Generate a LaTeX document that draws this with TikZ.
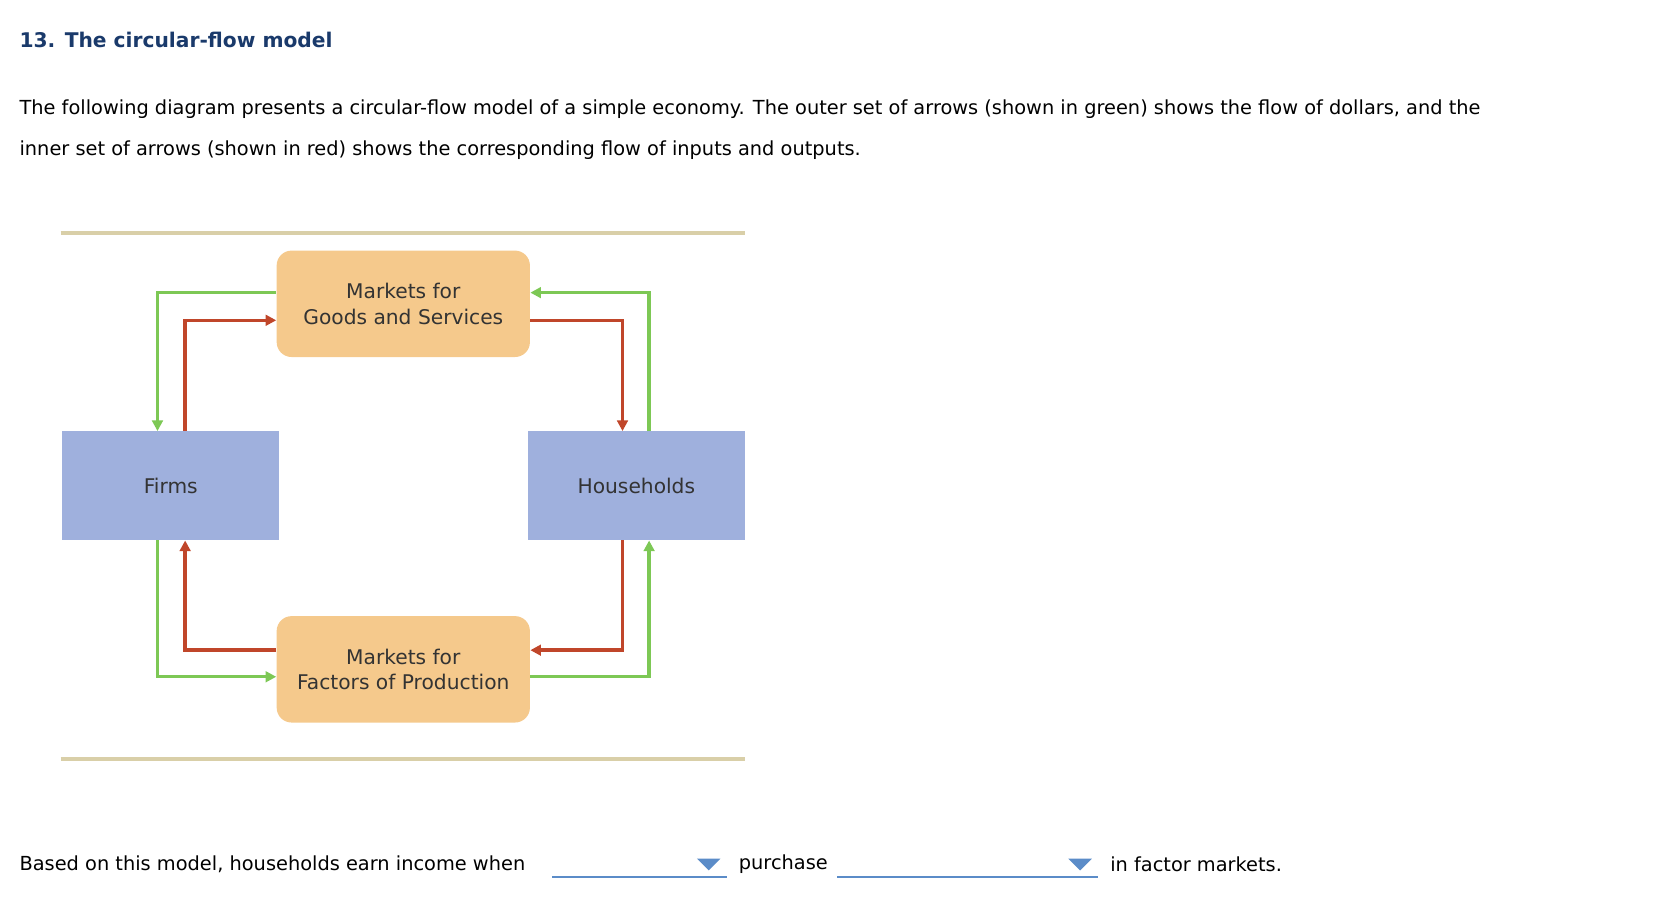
\documentclass[tikz,border=0pt]{standalone}
\usepackage{fontspec}
\setmainfont{DejaVu Sans}
\usetikzlibrary{arrows.meta,positioning}
\definecolor{flowgreen}{HTML}{7DC855}
\definecolor{flowred}{HTML}{C0462A}
\definecolor{marketfill}{HTML}{F5C98C}
\definecolor{agentfill}{HTML}{9FB0DD}
\definecolor{rulecolor}{HTML}{D9CFA8}
\definecolor{titleblue}{HTML}{1A3A6B}
\definecolor{dropblue}{HTML}{5B8CC8}
\tikzset{
  market/.style={fill=marketfill, rounded corners=7pt, minimum width=119pt, minimum height=50pt, align=center, font=\fontsize{9.5}{12}\selectfont, text=black!80},
  agent/.style={fill=agentfill, minimum width=102pt, minimum height=51pt, font=\fontsize{9.5}{12}\selectfont, text=black!80},
  money/.style={flowgreen, line width=1.6pt, -{Triangle[length=5pt,width=5pt]}},
  goods/.style={flowred, line width=1.6pt, -{Triangle[length=5pt,width=5pt]}},
  body/.style={anchor=west, inner sep=0pt, font=\fontsize{9.1}{11}\selectfont}
}
\begin{document}
\begin{tikzpicture}[x=0.5pt,y=-0.5pt]
  \useasboundingbox (0,0) rectangle (1560,857);
  \node[body, font=\bfseries\fontsize{9.5}{11}\selectfont, text=titleblue] (title) at (18,38) {13. The circular-flow model};
  \node[body] (line1) at (18,103) {The following diagram presents a circular-flow model of a simple economy. The outer set of arrows (shown in green) shows the flow of dollars, and the};
  \node[body] (line2) at (18,141) {inner set of arrows (shown in red) shows the corresponding flow of inputs and outputs.};

  % rules above and below the figure
  \draw[rulecolor, line width=2pt] (57,219) -- (700,219);
  \draw[rulecolor, line width=2pt] (57,713) -- (700,713);

  \node[market] (goods) at (379,285.5) {Markets for\\Goods and Services};
  \node[market] (factors) at (379,629) {Markets for\\Factors of Production};
  \node[agent] (firms) at (160.5,456.5) {Firms};
  \node[agent] (households) at (598,456.5) {Households};

  % top half
  \draw[money] (goods.west |- 0,275) -| (firms.north -| 148,0);
  \draw[goods] (firms.north -| 174,0) |- (goods.west |- 0,301);
  \draw[money] (households.north -| 610,0) |- (goods.east |- 0,275);
  \draw[goods] (goods.east |- 0,301) -| (households.north -| 585,0);

  % bottom half
  \draw[goods] (households.south -| 585,0) |- (factors.east |- 0,611);
  \draw[goods] (factors.west |- 0,611) -| (firms.south -| 174,0);
  \draw[money] (firms.south -| 148,0) |- (factors.west |- 0,636);
  \draw[money] (factors.east |- 0,636) -| (households.south -| 610,0);

  % question line
  \node[body] (q1) at (18,812) {Based on this model, households earn income when};
  \draw[dropblue, line width=1pt] (519,824) -- (683,824);
  \fill[dropblue] (655,807) -- (677,807) -- (666,818) -- cycle;
  \node[body] (q2) at (694,812) {purchase};
  \draw[dropblue, line width=1pt] (787,824) -- (1032,824);
  \fill[dropblue] (1004,807) -- (1026,807) -- (1015,818) -- cycle;
  \node[body] (q3) at (1043,812) {in factor markets.};
\end{tikzpicture}
\end{document}
